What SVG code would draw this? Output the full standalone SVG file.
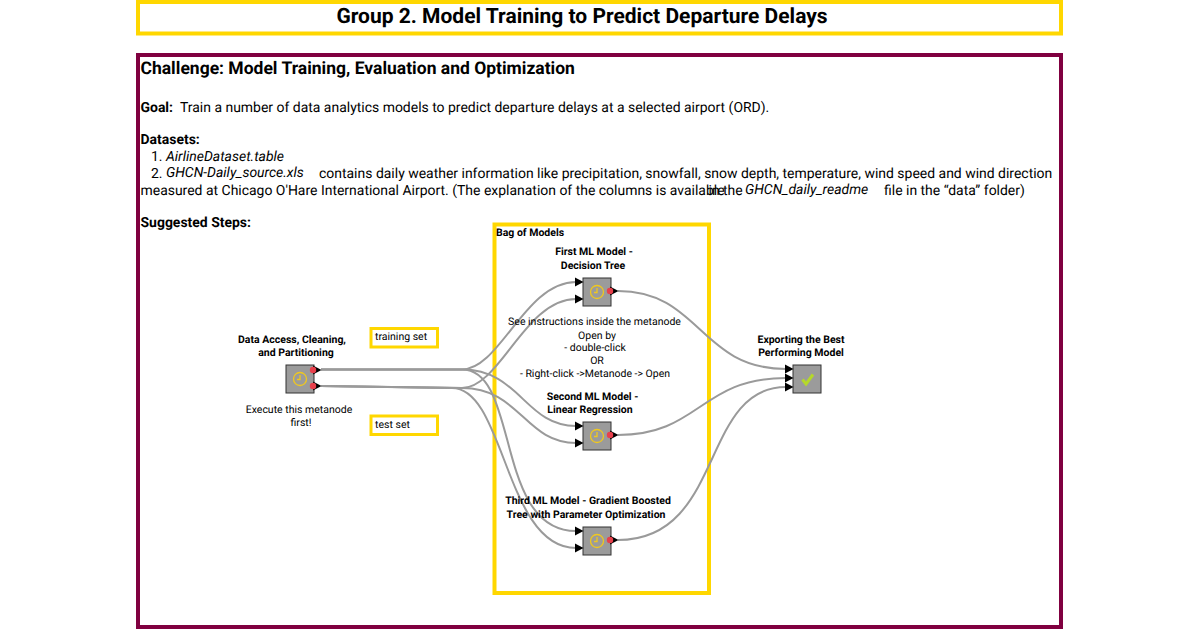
<svg xmlns="http://www.w3.org/2000/svg" width="1200" height="630" viewBox="0 0 1200 630">
<style>
text{font-family:Roboto,"Liberation Sans",sans-serif;fill:#000;text-rendering:geometricPrecision}
.t{font-size:13.960px}
.i{font-size:13.960px;font-style:italic}
.h{font-size:13.960px;font-weight:700}
.l{font-size:10.500px;font-weight:700;text-anchor:middle}
.c{font-size:10.500px;text-anchor:middle}
.a{font-size:10.500px}
.y{fill:none;stroke:#ffd700;stroke-width:4}
.box{fill:#9b9b9b;stroke:#333;stroke-width:1}
.clock{fill:none;stroke:#f0c81e;stroke-width:1.300}
.wire{fill:none;stroke:#9a9a9a;stroke-width:2}
.dot{fill:#e8404c}
</style>
<defs>
<g id="meta"><rect class="box" x="0" y="0" width="28" height="28"/><circle class="clock" cx="14" cy="14" r="6.500"/><path class="clock" d="M14 10v4.500h-3"/></g>
<path id="tri" d="M0 -4.500L8.500 0L0 4.500Z" fill="#000"/>
</defs>
<rect class="y" x="138" y="2" width="923" height="31.500" fill="#fff"/>
<text x="582" y="23" font-size="21" font-weight="700" text-anchor="middle">Group 2. Model Training to Predict Departure Delays</text>
<rect x="138" y="55" width="923" height="572" fill="#fff" stroke="#800040" stroke-width="4"/>
<text x="140.500" y="74" font-size="17.500" font-weight="700">Challenge: Model Training, Evaluation and Optimization</text>
<text class="h" x="140.500" y="112">Goal:</text>
<text class="t" x="180" y="112">Train a number of data analytics models to predict departure delays at a selected airport (ORD).</text>
<text class="h" x="140.500" y="144">Datasets:</text>
<text class="t" x="151" y="161">1.</text><text class="i" x="166" y="161">AirlineDataset.table</text>
<text class="t" x="151" y="178">2.</text><text class="i" x="166" y="177">GHCN-Daily_source.xls</text>
<text class="t" x="319" y="178">contains daily weather information like precipitation, snowfall, snow depth, temperature, wind speed and wind direction</text>
<text class="t" x="140.500" y="195">measured at Chicago O'Hare International Airport. (The explanation of the columns is available</text>
<text class="t" x="708.500" y="195">in the</text>
<text class="i" x="745" y="194">GHCN_daily_readme</text>
<text class="t" x="884" y="195">file in the “data” folder)</text>
<text class="h" x="140.500" y="227">Suggested Steps:</text>
<rect class="y" x="494.500" y="224.500" width="214.500" height="368.500"/>
<text x="496" y="236" font-size="10.500" font-weight="700">Bag of Models</text>
<rect class="y" x="371" y="328.500" width="66.500" height="18.500" style="stroke-width:3"/>
<text class="a" x="375" y="340">training set</text>
<rect class="y" x="371" y="416" width="66.500" height="18.500" style="stroke-width:3"/>
<text class="a" x="375" y="428">test set</text>
<g id="connectors">
<path class="wire" d="M321 369.500H462C500 369.500 525 282 576 282"/>
<path class="wire" d="M321 386L462 388C500 388 525 299 576 299"/>
<path class="wire" d="M321 369.500H462C520 369.500 525 426 576 426"/>
<path class="wire" d="M321 386L462 388C520 388 525 443 576 443"/>
<path class="wire" d="M321 369.500H462C520 369.500 494 531 576 531"/>
<path class="wire" d="M321 386L452 388C505 388 505 548 576 548"/>
<path class="wire" d="M618 291C700 291 700 369 786 369"/>
<path class="wire" d="M618 435C700 435 700 378 786 378"/>
<path class="wire" d="M618 540C725 540 700 387 786 387"/>
</g>
<g id="node-data"><use href="#meta" x="286" y="365"/><use href="#tri" x="313" y="370"/><use href="#tri" x="313" y="386"/><circle class="dot" cx="313" cy="370" r="3.200"/><circle class="dot" cx="313" cy="386" r="3.200"/>
<text class="l" x="292" y="342.500">Data Access, Cleaning,</text><text class="l" x="296" y="355.500">and Partitioning</text>
<text class="c" x="299" y="413">Execute this metanode</text><text class="c" x="301" y="426">first!</text></g>
<g id="node-tree"><use href="#meta" x="583" y="278"/><use href="#tri" x="575" y="282"/><use href="#tri" x="575" y="299"/><use href="#tri" x="610" y="291"/><circle class="dot" cx="610" cy="291" r="3.200"/>
<text class="l" x="594" y="255">First ML Model -</text><text class="l" x="593" y="268.500">Decision Tree</text>
<text class="c" x="594.500" y="325">See instructions inside the metanode</text><text class="c" x="597" y="339">Open by</text><text class="c" x="595" y="351">- double-click</text><text class="c" x="597" y="364">OR</text><text class="c" x="595" y="377">- Right-click -&gt;Metanode -&gt; Open</text></g>
<g id="node-linear"><use href="#meta" x="583" y="422"/><use href="#tri" x="575" y="426"/><use href="#tri" x="575" y="443"/><use href="#tri" x="610" y="435"/><circle class="dot" cx="610" cy="435" r="3.200"/>
<text class="l" x="592.500" y="399.500">Second ML Model -</text><text class="l" x="590" y="412.500">Linear Regression</text></g>
<g id="node-gbt"><use href="#meta" x="583" y="527"/><use href="#tri" x="575" y="531"/><use href="#tri" x="575" y="548"/><use href="#tri" x="610" y="540"/><circle class="dot" cx="610" cy="540" r="3.200"/>
<text class="l" x="588" y="504">Third ML Model - Gradient Boosted</text><text class="l" x="586" y="517.500">Tree with Parameter Optimization</text></g>
<g id="node-export"><rect class="box" x="793" y="365" width="28" height="28"/><use href="#tri" x="785" y="369"/><use href="#tri" x="785" y="378"/><use href="#tri" x="785" y="387"/><path d="M802.500 379.500L806 384L813 374.500" fill="none" stroke="#b5d82a" stroke-width="3"/>
<text class="l" x="801" y="343">Exporting the Best</text><text class="l" x="801" y="356">Performing Model</text></g>
</svg>
